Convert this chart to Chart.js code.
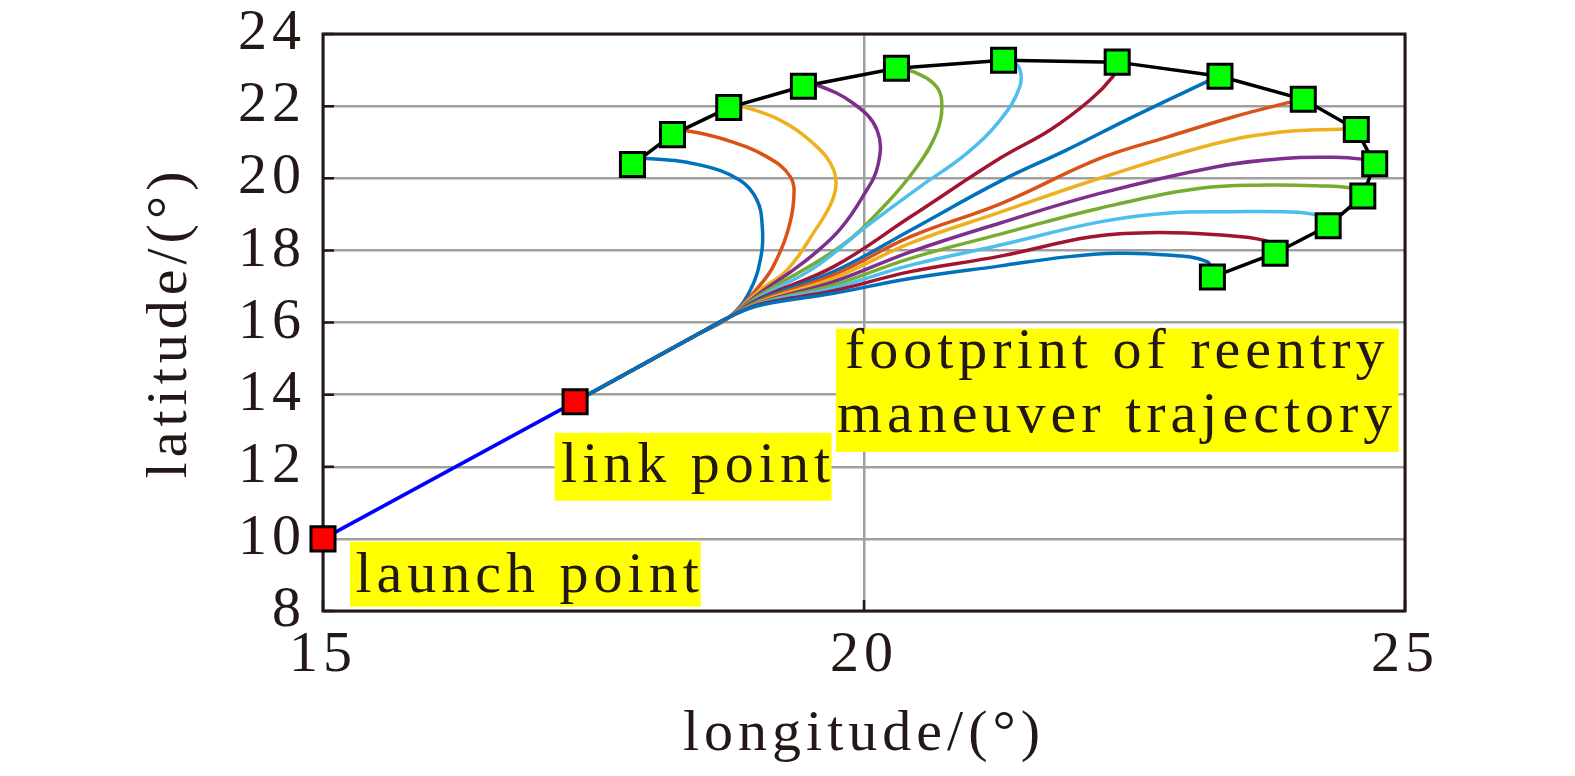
<!DOCTYPE html>
<html lang="en">
<head>
<meta charset="UTF-8">
<title>Footprint of reentry maneuver trajectory</title>
<script src="https://cdn.jsdelivr.net/npm/chart.js"></script>
<style>
    html, body { margin: 0; padding: 0; background: #fff; }
    #wrap { width: 1575px; height: 776px; }
</style>
</head>
<body>
<div id="wrap"><canvas id="footprintChart" width="1575" height="776"></canvas></div>
<script>
// axis ticks
const lonTicks = [15, 20, 25];
const latTicks = [8, 10, 12, 14, 16, 18, 20, 22, 24];

// launch and link points (lon, lat)
const launchPoint = [15.00, 10.00];
const linkPoint = [17.33, 13.80];

// all branches share this piece right after the link point
const bundleLon = [17.33, 18.48, 18.76];
const bundleLat = [13.80, 15.70, 16.16];

// reentry maneuver branches
const branchLon = [
    [18.95, 19.05, 19.06, 19.01, 18.85, 18.48, 17.99, 17.88],
    [19.04, 19.16, 19.29, 19.35, 19.32, 19.10, 18.73, 18.36, 18.25],
    [19.04, 19.29, 19.53, 19.72, 19.72, 19.53, 19.22, 18.88, 18.77],
    [19.04, 19.32, 19.55, 19.78, 19.98, 20.13, 20.12, 19.90, 19.56, 19.46],
    [19.04, 19.78, 20.18, 20.49, 20.67, 20.72, 20.67, 20.46, 20.32],
    [19.04, 19.53, 20.02, 20.52, 20.95, 21.26, 21.44, 21.43, 21.33],
    [19.04, 19.72, 20.43, 21.26, 21.72, 22.09, 22.30, 22.33],
    [19.04, 19.72, 20.43, 21.26, 21.87, 22.49, 23.17, 23.26],
    [19.04, 19.72, 20.43, 21.26, 22.18, 22.80, 23.41, 23.94, 24.05],
    [19.04, 19.72, 20.43, 21.26, 22.18, 23.26, 23.88, 24.40, 24.53],
    [19.04, 19.72, 20.43, 21.26, 22.18, 23.26, 23.88, 24.34, 24.60, 24.70],
    [19.04, 19.72, 20.43, 21.26, 22.18, 23.11, 23.72, 24.18, 24.52, 24.60],
    [19.04, 19.72, 20.43, 21.26, 22.18, 22.80, 23.41, 23.88, 24.18, 24.27],
    [19.04, 19.72, 20.43, 21.26, 22.09, 22.64, 23.26, 23.72, 23.80],
    [19.04, 19.72, 20.43, 21.26, 21.87, 22.34, 22.80, 23.17, 23.22]
];
const branchLat = [
    [16.90, 17.87, 18.66, 19.40, 19.95, 20.37, 20.55, 20.48],
    [17.04, 17.55, 18.48, 19.40, 20.04, 20.60, 21.06, 21.32, 21.28],
    [16.90, 17.46, 18.47, 19.49, 20.23, 20.97, 21.62, 21.98, 21.98],
    [16.82, 17.40, 17.93, 18.59, 19.45, 20.37, 21.34, 22.08, 22.59, 22.58],
    [16.76, 18.10, 19.21, 20.32, 21.25, 21.98, 22.54, 22.95, 23.04],
    [16.71, 17.50, 18.66, 19.77, 20.69, 21.62, 22.54, 23.09, 23.24],
    [16.67, 17.55, 18.93, 20.56, 21.34, 22.17, 22.82, 23.08],
    [16.64, 17.41, 18.56, 19.92, 20.78, 21.71, 22.68, 22.80],
    [16.61, 17.32, 18.38, 19.29, 20.55, 21.14, 21.70, 22.11, 22.17],
    [16.58, 17.23, 18.20, 19.06, 20.00, 20.97, 21.29, 21.36, 21.36],
    [16.55, 17.13, 17.96, 18.76, 19.58, 20.32, 20.55, 20.58, 20.53, 20.45],
    [16.54, 17.04, 17.78, 18.45, 19.17, 19.72, 19.81, 19.79, 19.72, 19.58],
    [16.53, 16.96, 17.59, 18.15, 18.79, 19.03, 19.07, 19.07, 18.98, 18.75],
    [16.51, 16.88, 17.41, 17.84, 18.37, 18.49, 18.43, 18.26, 18.00],
    [16.48, 16.81, 17.22, 17.57, 17.82, 17.92, 17.87, 17.69, 17.35]
];

// footprint (end points of the branches)
const footprintLon = [17.86, 18.23, 18.75, 19.44, 20.30, 21.29, 22.34, 23.29, 24.06, 24.55, 24.72, 24.61, 24.29, 23.80, 23.22];
const footprintLat = [20.38, 21.21, 21.96, 22.55, 23.05, 23.27, 23.22, 22.83, 22.19, 21.35, 20.40, 19.51, 18.68, 17.92, 17.26];

// matlab default colour order
const lineColors = ['#0072BD', '#D95319', '#EDB120', '#7E2F8E', '#77AC30', '#4DBEEE', '#A2142F'];
const TEXT_COLOR = '#231815';
const FONT = "'Liberation Serif', 'Times New Roman', serif";
const FONT_SIZE = 58;
const SPACING = '5px';

// text boxes, in data units
const notes = [
    { box: [15.25, 18.49, 8.12, 9.92], lines: [{ text: 'launch point', x: 15.30, y: 8.535, align: 'left' }] },
    { box: [17.14, 19.70, 11.06, 12.94], lines: [{ text: 'link point', x: 17.20, y: 11.585, align: 'left' }] },
    { box: [19.74, 24.94, 12.41, 15.83], lines: [
        { text: 'footprint of reentry', x: 22.34, y: 14.74, align: 'center' },
        { text: 'maneuver trajectory', x: 22.34, y: 12.97, align: 'center' }
    ] }
];

function toXY(lons, lats) {
    return lons.map((v, i) => ({ x: v, y: lats[i] }));
}

const datasets = [];

// footprint polyline with green squares, on top
datasets.push({
    data: toXY(footprintLon, footprintLat),
    showLine: true,
    borderColor: '#000000',
    borderWidth: 3.5,
    tension: 0,
    pointStyle: 'rect',
    pointRadius: 17,
    pointBackgroundColor: '#00ff00',
    pointBorderColor: '#000000',
    pointBorderWidth: 3,
    clip: false,
    order: 0
});

// launch -> link segment with red squares
datasets.push({
    data: toXY([launchPoint[0], linkPoint[0]], [launchPoint[1], linkPoint[1]]),
    showLine: true,
    borderColor: '#0000ff',
    borderWidth: 3.5,
    tension: 0,
    pointStyle: 'rect',
    pointRadius: 17,
    pointBackgroundColor: '#ff0000',
    pointBorderColor: '#000000',
    pointBorderWidth: 3,
    clip: false,
    order: 1
});

// branches, the last one drawn on top
branchLon.forEach((lons, i) => {
    datasets.push({
        data: toXY(bundleLon.concat(lons), bundleLat.concat(branchLat[i])),
        showLine: true,
        borderColor: lineColors[i % lineColors.length],
        borderWidth: 3.5,
        tension: 0.4,
        pointRadius: 0,
        pointHitRadius: 0,
        order: 2 + (branchLon.length - 1 - i)
    });
});

const spacingPlugin = {
    id: 'spacing',
    beforeLayout(chart) { chart.ctx.letterSpacing = SPACING; },
    beforeDraw(chart) { chart.ctx.letterSpacing = SPACING; }
};

const framePlugin = {
    id: 'frame',
    beforeDatasetsDraw(chart) {
        const { ctx, chartArea: a, scales } = chart;
        ctx.save();
        ctx.strokeStyle = TEXT_COLOR;
        ctx.lineWidth = 2.5;
        ctx.beginPath();
        latTicks.forEach(v => {
            const y = scales.y.getPixelForValue(v);
            ctx.moveTo(a.left, y);
            ctx.lineTo(a.left + 11, y);
        });
        lonTicks.forEach(v => {
            const x = scales.x.getPixelForValue(v);
            ctx.moveTo(x, a.bottom);
            ctx.lineTo(x, a.bottom - 11);
        });
        ctx.stroke();
        ctx.lineWidth = 3;
        ctx.strokeRect(a.left, a.top, a.right - a.left, a.bottom - a.top);
        ctx.restore();
    }
};

const notesPlugin = {
    id: 'notes',
    afterDatasetsDraw(chart) {
        const { ctx, scales } = chart;
        const sx = scales.x, sy = scales.y;
        ctx.save();
        ctx.letterSpacing = SPACING;
        notes.forEach(n => {
            const x1 = sx.getPixelForValue(n.box[0]);
            const x2 = sx.getPixelForValue(n.box[1]);
            const y1 = sy.getPixelForValue(n.box[3]);
            const y2 = sy.getPixelForValue(n.box[2]);
            ctx.fillStyle = '#ffff00';
            ctx.fillRect(x1, y1, x2 - x1, y2 - y1);
            ctx.fillStyle = TEXT_COLOR;
            ctx.font = FONT_SIZE + 'px ' + FONT;
            ctx.textBaseline = 'alphabetic';
            n.lines.forEach(l => {
                ctx.textAlign = l.align;
                ctx.fillText(l.text, sx.getPixelForValue(l.x), sy.getPixelForValue(l.y));
            });
        });
        ctx.restore();
    }
};

const axisFont = { family: FONT, size: FONT_SIZE };
const gridStyle = { color: '#a0a0a0', lineWidth: 2.5, drawTicks: false };

new Chart(document.getElementById('footprintChart'), {
    type: 'scatter',
    data: { datasets: datasets },
    options: {
        responsive: false,
        devicePixelRatio: 1,
        animation: false,
        layout: { padding: { top: 34, right: 170, bottom: 0, left: 0 } },
        plugins: {
            legend: { display: false },
            tooltip: { enabled: false }
        },
        scales: {
            x: {
                type: 'linear',
                min: 15,
                max: 25,
                afterBuildTicks: s => { s.ticks = lonTicks.map(v => ({ value: v })); },
                afterFit: s => { s.height = 165; s.paddingLeft = 0; s.paddingRight = 0; },
                grid: gridStyle,
                border: { display: false },
                ticks: { font: axisFont, color: TEXT_COLOR, padding: 10, maxRotation: 0, autoSkip: false },
                title: { display: true, text: 'longitude/(°)', font: axisFont, color: TEXT_COLOR, padding: { top: 0, bottom: 6 } }
            },
            y: {
                type: 'linear',
                min: 8,
                max: 24,
                afterBuildTicks: s => { s.ticks = latTicks.map(v => ({ value: v })); },
                afterFit: s => { s.width = 323; s.paddingTop = 0; s.paddingBottom = 0; },
                grid: gridStyle,
                border: { display: false },
                ticks: { font: axisFont, color: TEXT_COLOR, padding: 17, autoSkip: false },
                title: { display: true, text: 'latitude/(°)', font: axisFont, color: TEXT_COLOR, padding: { top: 136, bottom: 0 } }
            }
        }
    },
    plugins: [spacingPlugin, framePlugin, notesPlugin]
});
</script>
</body>
</html>
